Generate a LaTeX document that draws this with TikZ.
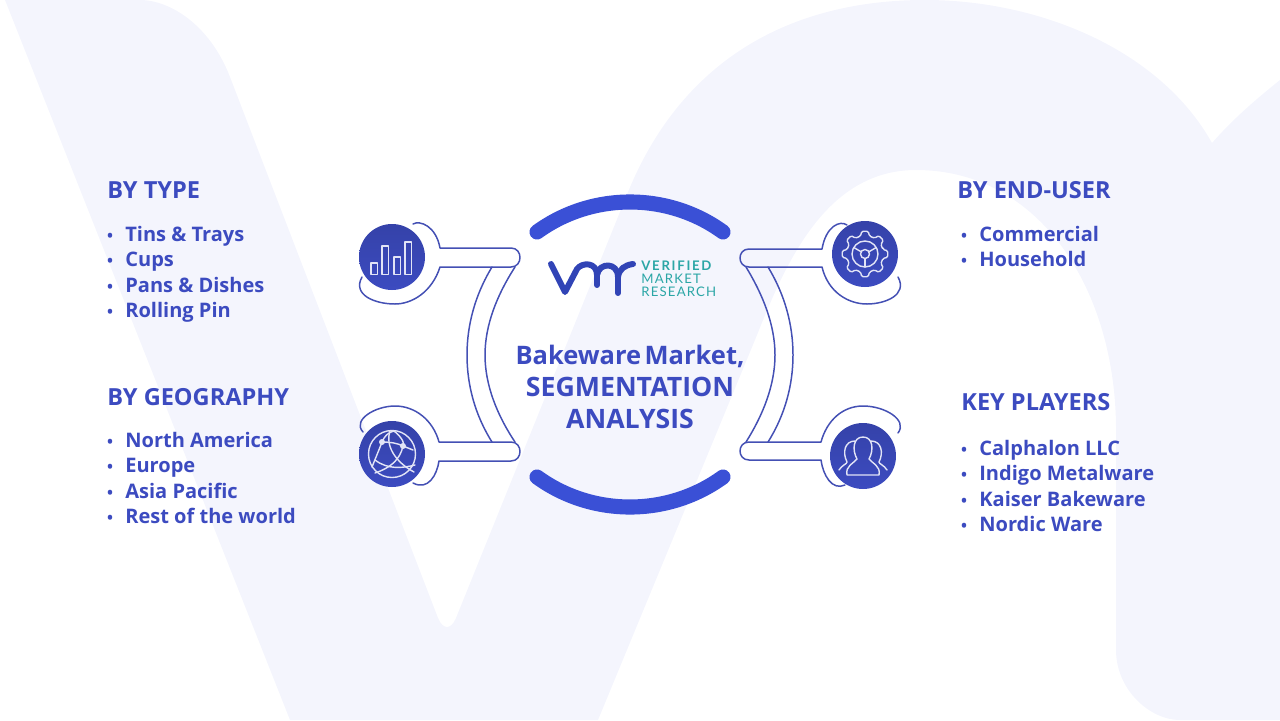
\documentclass[tikz,border=0pt]{standalone}
\usepackage{fontspec}
\usepackage{xcolor}
\setmainfont{Open Sans}
\newfontfamily\logofont[LetterSpace=9]{Lato}
\newfontfamily\logowide[LetterSpace=13]{Lato}
\definecolor{bgpale}{HTML}{F4F5FD}
\definecolor{mainblue}{HTML}{3C4BC0}
\definecolor{arcblue}{HTML}{3A50D6}
\definecolor{lineblue}{HTML}{4450B4}
\definecolor{logoteal}{HTML}{2BA6A6}
\usetikzlibrary{positioning, calc}

\begin{document}
\begin{tikzpicture}[x=0.02cm,y=-0.02cm,
    heading/.style={anchor=base west,inner sep=0pt,text=mainblue,font=\fontsize{13.4}{15}\selectfont\bfseries},
    itemtext/.style={anchor=base west,inner sep=0pt,text=mainblue,font=\fontsize{11.4}{14}\selectfont\bfseries},
    dotmark/.style={anchor=base,inner sep=0pt,text=mainblue,font=\fontsize{9}{14}\selectfont\bfseries},
    outline/.style={draw=lineblue,line width=0.85pt,line cap=round,line join=round},
    bigarc/.style={draw=arcblue,line width=8.6pt,line cap=round},
    iconcircle/.style={top color=mainblue!88!black,middle color=mainblue,bottom color=mainblue},
    iconline/.style={draw=white!85!mainblue,line width=0.8pt,line cap=round,line join=round},
    logoline/.style={draw=arcblue!85!black,line width=3.4pt,line cap=round,line join=round},
    logotext/.style={anchor=base west,inner sep=0pt,text=logoteal,font=\logofont\fontsize{7.5}{9}\selectfont}]
\useasboundingbox (0,0) rectangle (1280,720);

% Background letters
\fill[bgpale] (5,0) -- (290,720) -- (598,720) -- (757,335)
    .. controls (785,265) and (825,170) .. (916,170)
    .. controls (1040,170) and (1116,290) .. (1116,430) -- (1116,650)
    .. controls (1116,690) and (1150,720) .. (1180,720) -- (1280,720) -- (1280,80)
    .. controls (1255,100) and (1232,120) .. (1212,143)
    .. controls (1160,50) and (1040,0) .. (925,0)
    .. controls (790,0) and (680,60) .. (626,197) -- (456,618)
    .. controls (451,630) and (443,630) .. (438,618) -- (230,77)
    .. controls (210,25) and (170,0) .. (140,0) -- cycle;

% Thick arcs
\draw[bigarc] (537,232) .. controls (592,192) and (668,192) .. (723,232);
\draw[bigarc] (537,477) .. controls (592,517) and (668,517) .. (723,477);

% Left handles
\draw[outline] (413,224) .. controls (420,220) and (436,226) .. (440,248) -- (511,248)
    .. controls (523,248) and (523,267) .. (511,267) -- (440,267)
    .. controls (432,292) and (412,304) .. (395,304)
    .. controls (375,304) and (352,295) .. (362,277);
\draw[outline] (363,432) .. controls (352,420) and (375,406) .. (395,406)
    .. controls (415,406) and (433,420) .. (439,442) -- (511,442)
    .. controls (523,442) and (523,461) .. (511,461) -- (439,461)
    .. controls (437,475) and (428,491) .. (413,483);
\draw[outline] (492,267) .. controls (475,295) and (467,325) .. (467,355) .. controls (467,385) and (475,415) .. (492,442);
\draw[outline] (515,267) .. controls (497,295) and (485,325) .. (485,355) .. controls (485,385) and (497,415) .. (515,442);

% Right handles
\draw[outline] (847,225) .. controls (840,220) and (826,226) .. (822,249) -- (749,249)
    .. controls (737,249) and (737,267) .. (749,267) -- (822,267)
    .. controls (828,292) and (848,304) .. (867,304)
    .. controls (885,304) and (908,295) .. (898,277);
\draw[outline] (898,433) .. controls (908,420) and (885,406) .. (863,406)
    .. controls (843,406) and (827,420) .. (821,442) -- (749,442)
    .. controls (737,442) and (737,460) .. (749,460) -- (821,460)
    .. controls (823,475) and (832,491) .. (845,485);
\draw[outline] (768,267) .. controls (785,295) and (793,325) .. (793,355) .. controls (793,385) and (785,415) .. (768,442);
\draw[outline] (746,267) .. controls (763,295) and (775,325) .. (775,355) .. controls (775,385) and (763,415) .. (746,442);

% Icon discs
\path[iconcircle] (392,257) circle (33);
\path[iconcircle] (392,454) circle (33);
\path[iconcircle] (865,254) circle (33);
\path[iconcircle] (863,456) circle (33);

% Bars icon
\foreach \bx/\bt in {371/263, 382/246, 394/257, 405/242} {
    \draw[iconline] (\bx,\bt) rectangle ({\bx+6.5},274.5);
}

% Globe icon
\draw[iconline] (392,454) circle (23.5);
\draw[iconline] (390,431) .. controls (385,445) and (395,462) .. (414,472);
\draw[iconline] (394,431) .. controls (403,438) and (405,445) .. (403,446) .. controls (400,460) and (390,468) .. (375,473);
\draw[iconline] (394,431) .. controls (388,432) and (384,437) .. (382,442) .. controls (379,450) and (376,457) .. (372,467);
\draw[iconline] (382,442) .. controls (390,442) and (397,443) .. (403,446) -- (413,450);
\draw[iconline] (375,460) .. controls (388,470) and (403,468) .. (415,465);
\fill[white!85!mainblue] (382,442) circle (3);
\fill[white!85!mainblue] (403,446) circle (3);

% Gear icon
\draw[iconline,rounded corners=0.8pt] ({865+18.5*cos(-14)},{254+18.5*sin(-14)}) \foreach \a in {0,45,...,315} {
    -- ({865+23*cos(\a-8)},{254+23*sin(\a-8)})
    -- ({865+23*cos(\a+8)},{254+23*sin(\a+8)}) -- ({865+18.5*cos(\a+14)},{254+18.5*sin(\a+14)})
    -- ({865+18.5*cos(\a+31)},{254+18.5*sin(\a+31)})
} -- cycle;
\draw[iconline] (865,254) circle (13);
\draw[iconline] (865,254) circle (4.5);
\foreach \a in {90,210,330} {
    \draw[iconline] ({865+4.5*cos(\a)},{254+4.5*sin(\a)}) -- ({865+13*cos(\a)},{254+13*sin(\a)});
}

% People icon
\draw[iconline] (847,475) -- (879,475) .. controls (881,466) and (872,463) .. (869,459)
    .. controls (874,450) and (873,437) .. (863,437)
    .. controls (853,437) and (852,450) .. (857,459)
    .. controls (854,463) and (845,466) .. (847,475);
\draw[iconline] (839,470) .. controls (842,465) and (847,464) .. (847,462)
    .. controls (842,452) and (845,441) .. (855,441);
\draw[iconline] (887,470) .. controls (884,465) and (879,464) .. (879,462)
    .. controls (884,452) and (881,441) .. (871,441);

% Logo
\draw[logoline] (551,264) -- (565,292) -- (577,269) .. controls (582,262) and (597,262) .. (597,275) -- (597,285);
\draw[logoline] (597,275) .. controls (599,262) and (618,262) .. (618,277) -- (618,293);
\draw[logoline] (618,277) .. controls (619,269) and (625,265) .. (633,264);
\node[logotext] (logoverified) at (641,270) {\logowide\bfseries VERIFIED};
\node[logotext] (logomarket) at (641,283) {MARKET};
\node[logotext] (logoresearch) at (641,296) {RESEARCH};

% Center title
\node[align=center,inner sep=0pt,text=mainblue,font=\fontsize{15.2}{18.1}\selectfont\bfseries] (title) at (630,387)
    {{\fontsize{14.5}{18.1}\selectfont Bakeware\kern 2pt Market,}\\SEGMENTATION\\ANALYSIS};

% By type
\node[heading] (typehead) at (107,198) {BY TYPE};
\foreach \i/\t in {0/Tins \& Trays, 1/Cups, 2/Pans \& Dishes, 3/Rolling Pin} {
    \node[dotmark] (typedot\i) at (110,{241+25.5*\i}) {•};
    \node[itemtext] (typeitem\i) at (125,{241+25.5*\i}) {\t};
}

% By geography
\node[heading] (geohead) at (107,405) {BY GEOGRAPHY};
\foreach \i/\t in {0/North America, 1/Europe, 2/Asia Pacific, 3/Rest of the world} {
    \node[dotmark] (geodot\i) at (110,{447+25.5*\i}) {•};
    \node[itemtext] (geoitem\i) at (125,{447+25.5*\i}) {\t};
}

% By end-user
\node[heading] (userhead) at (957,198) {BY END-USER};
\foreach \i/\t in {0/Commercial, 1/Household} {
    \node[dotmark] (userdot\i) at (964,{241+25.5*\i}) {•};
    \node[itemtext] (useritem\i) at (979,{241+25.5*\i}) {\t};
}

% Key players
\node[heading] (playerhead) at (961,410) {KEY PLAYERS};
\foreach \i/\t in {0/Calphalon LLC, 1/Indigo Metalware, 2/Kaiser Bakeware, 3/Nordic Ware} {
    \node[dotmark] (playerdot\i) at (964,{455+25.5*\i}) {•};
    \node[itemtext] (playeritem\i) at (979,{455+25.5*\i}) {\t};
}
\end{tikzpicture}
\end{document}
